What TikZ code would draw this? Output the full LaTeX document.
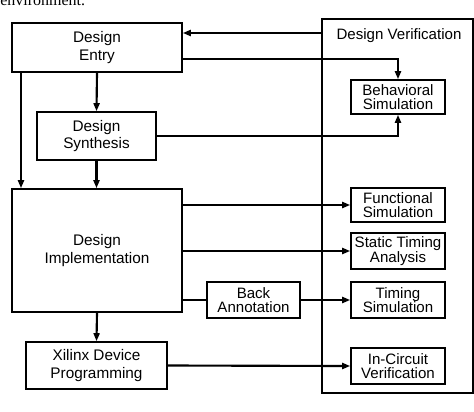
\documentclass[tikz,border=0pt]{standalone}
\usepackage{fontspec}
\setmainfont{Liberation Sans}
\newfontfamily\serifpage{Liberation Serif}
\usetikzlibrary{arrows.meta}
\begin{document}
\begin{tikzpicture}[x=0.75pt,y=-0.75pt,
  box/.style={draw, line width=1.2pt, inner sep=0pt, align=center},
  bigbox/.style={box, font=\fontsize{11.5}{12.8}\selectfont},
  smallbox/.style={box, font=\fontsize{11.3}{10.8}\selectfont, minimum width=94*0.75pt},
  arr/.style={line width=1.6pt, -{Triangle[length=6pt,width=4.5pt]}},
  ln/.style={line width=1.6pt}]
\useasboundingbox (0,0) rectangle (474,411);
\clip (0,0) rectangle (474,411);
\node[anchor=base west, font=\serifpage\fontsize{12}{14}\selectfont, inner sep=0pt] (envtext) at (0,5) {environment.};
% verification frame
\node[draw, line width=1.2pt, minimum width=151*0.75pt, minimum height=374*0.75pt, inner sep=0pt] (ver) at (397.5,206) {};
\node[font=\fontsize{11.3}{12}\selectfont] (vtitle) at (399,36) {Design Verification};
% left column
\node[bigbox, minimum width=170*0.75pt, minimum height=49*0.75pt] (entry) at (97,47.5) {Design\\Entry};
\node[bigbox, minimum width=119*0.75pt, minimum height=48*0.75pt] (syn) at (96.5,136) {Design\\Synthesis};
\node[bigbox, minimum width=170*0.75pt, minimum height=123*0.75pt] (impl) at (97,250.5) {Design\\Implementation};
\node[bigbox, minimum width=141*0.75pt, minimum height=47*0.75pt] (xil) at (96.5,365.5) {Xilinx Device\\Programming};
\node[smallbox, minimum width=93*0.75pt, minimum height=36*0.75pt] (back) at (253.5,300) {Back\\Annotation};
% right column
\node[smallbox, minimum height=34*0.75pt] (beh) at (398,97) {Behavioral\\Simulation};
\node[smallbox, minimum height=34*0.75pt] (fun) at (398,205) {Functional\\Simulation};
\node[smallbox, minimum height=36*0.75pt] (sta) at (398,251) {Static Timing\\Analysis};
\node[smallbox, minimum height=36*0.75pt] (tim) at (398,300) {Timing\\Simulation};
\node[smallbox, minimum height=36*0.75pt] (inc) at (398,366) {In-Circuit\\Verification};
% connectors
\coordinate (v1) at (322,33);
\draw[arr] (v1) -- (v1 -| entry.east);
\coordinate (e1) at (182,59);
\draw[arr] (e1) -| (beh.north);
\draw[arr] (syn.east) -| (beh.south);
\draw[arr] (entry.south) -- (syn.north);
\coordinate (e2) at (21,72);
\draw[arr] (e2) -- (e2 |- impl.north);
\draw[arr] (syn.south) -- (syn.south |- impl.north);
\draw[arr] (impl.east |- fun.west) -- (fun.west);
\draw[arr] (impl.east |- sta.west) -- (sta.west);
\draw[ln] (impl.east |- back.west) -- (back.west);
\draw[arr] (back.east) -- (tim.west);
\draw[arr] (impl.south) -- (xil.north);
\draw[arr] (xil.east) -- (inc.west);
\end{tikzpicture}
\end{document}
